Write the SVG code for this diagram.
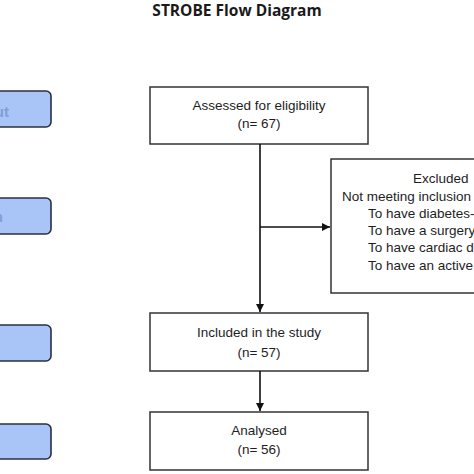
<svg xmlns="http://www.w3.org/2000/svg" width="474" height="474" viewBox="0 0 474 474">
<style>
.box{fill:#ffffff;stroke:#333333;stroke-width:1.5}
.side{fill:#a9c5f7;stroke:#283040;stroke-width:1.6}
.t{font-family:"Liberation Sans",Arial,sans-serif;font-size:13.5px;fill:#1e1e1e}
.c{text-anchor:middle}
.st{font-family:"Liberation Sans",Arial,sans-serif;font-size:15px;font-weight:bold;fill:#7f9fd6;text-anchor:end}
.ln{stroke:#111111;stroke-width:1.6;fill:none}
</style>
<defs>
<marker id="ah" viewBox="0 0 10 10" refX="10" refY="5" markerWidth="5" markerHeight="5" orient="auto" markerUnits="strokeWidth">
<path d="M0,0 L10,5 L0,10 z" fill="#111111"/>
</marker>
</defs>
<rect width="474" height="474" fill="#ffffff"/>
<text x="237" y="16" text-anchor="middle" font-family="'Open Sans','Liberation Sans',sans-serif" font-size="15.5" font-weight="bold" fill="#1a1a1a">STROBE Flow Diagram</text>
<g id="side1"><rect class="side" x="-20" y="91" width="71" height="36" rx="5"/><text class="st" x="9" y="117">ut</text></g>
<g id="side2"><rect class="side" x="-20" y="198" width="71" height="36" rx="5"/><text class="st" x="3" y="222">n</text></g>
<g id="side3"><rect class="side" x="-20" y="325" width="71" height="36" rx="5"/></g>
<g id="side4"><rect class="side" x="-20" y="424" width="71" height="35" rx="5"/></g>
<g id="assessed"><rect class="box" x="150" y="87" width="218" height="57"/><text class="t c" x="259" y="110">Assessed for eligibility</text><text class="t c" x="259" y="128">(n= 67)</text></g>
<g id="excluded"><rect class="box" x="331" y="159" width="160" height="134"/>
<text class="t" x="413" y="183">Excluded</text>
<text class="t" x="342" y="201">Not meeting inclusion c</text>
<text class="t" x="368" y="218">To have diabetes-</text>
<text class="t" x="368" y="235">To have a surgery</text>
<text class="t" x="368" y="252">To have cardiac d</text>
<text class="t" x="368" y="270">To have an active</text></g>
<g id="included"><rect class="box" x="150" y="313" width="218" height="58"/><text class="t c" x="259" y="337">Included in the study</text><text class="t c" x="259" y="357">(n= 57)</text></g>
<g id="analysed"><rect class="box" x="150" y="412" width="218" height="58"/><text class="t c" x="259" y="435">Analysed</text><text class="t c" x="259" y="454">(n= 56)</text></g>
<g id="connectors">
<path class="ln" d="M260,144 L260,312" marker-end="url(#ah)"/>
<path class="ln" d="M260,227 L330,227" marker-end="url(#ah)"/>
<path class="ln" d="M260,371 L260,411" marker-end="url(#ah)"/>
</g>
</svg>
